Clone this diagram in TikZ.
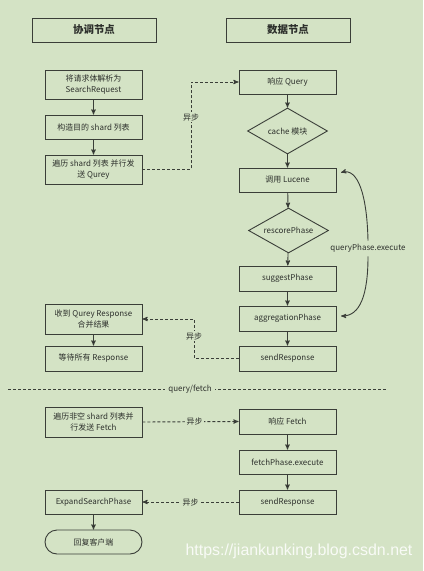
\documentclass[tikz,border=0pt]{standalone}
\usepackage{fontspec}
\setmainfont{Noto Sans CJK SC}
\newfontfamily\urlfont{Liberation Sans}
\usetikzlibrary{arrows,positioning,shapes.geometric}
\definecolor{bg}{RGB}{212,227,197}
\definecolor{ln}{RGB}{58,62,56}
\definecolor{tx}{RGB}{45,48,44}
\tikzset{font=\fontsize{8}{11}\selectfont}
\tikzset{every picture/.style={line width=0.9bp}}
\tikzstyle{head}=[draw=ln,minimum width=124bp,minimum height=24bp,inner sep=1pt,text=tx,font=\fontsize{10.5}{12}\selectfont\bfseries]
\tikzstyle{box}=[draw=ln,minimum width=97bp,minimum height=24bp,inner sep=1pt,align=center,text=tx]
\tikzstyle{decision}=[draw=ln,diamond,aspect=1.75,minimum width=80bp,minimum height=46bp,inner sep=0pt,text=tx]
\tikzstyle{flow}=[draw=ln,->,>=stealth']
\tikzstyle{async}=[draw=ln,->,>=stealth',dash pattern=on 3bp off 2bp]
\tikzstyle{tag}=[fill=bg,inner sep=1.5pt,text=tx]

\begin{document}
\begin{tikzpicture}[x=1bp,y=-1bp]
\fill[bg] (0,0) rectangle (423,571);
\useasboundingbox (0,0) rectangle (423,571);
% headers
\node[head] (coord) at (94,30) {协调节点};
\node[head] (data) at (288,30) {数据节点};
% query phase, coordinating node
\node[box,minimum height=29bp] (parse) at (93.5,84.5) {将请求体解析为\\SearchRequest};
\node[box] (shards) at (93.5,127) {构造目的 shard 列表};
\node[box,minimum height=29bp] (sendq) at (93.5,169.5) {遍历 shard 列表 并行发\\送 Qurey};
\node[box,minimum height=30bp] (merge) at (93.5,319) {收到 Qurey Response\\合并结果};
\node[box,minimum height=25bp] (wait) at (93.5,358.5) {等待所有 Response};
% query phase, data node
\node[box] (respq) at (287.5,82) {响应 Query};
\node[decision] (cache) at (287.5,131) {cache 模块};
\node[box] (lucene) at (287.5,180) {调用 Lucene};
\node[decision,minimum height=45bp] (rescore) at (288.5,230.5) {rescorePhase};
\node[box,minimum height=25bp] (suggest) at (287.5,278.5) {suggestPhase};
\node[box,minimum height=25bp] (aggr) at (287.5,318.5) {aggregationPhase};
\node[box,minimum height=25bp] (sendr) at (287.5,358.5) {sendResponse};
\node[text=tx] (qexec) at (368,248.5) {queryPhase.execute};
% fetch phase
\node[box,minimum height=30bp] (sendf) at (93.5,422) {遍历非空 shard 列表并\\行发送 Fetch};
\node[box,minimum height=25bp] (respf) at (287.5,421.5) {响应 Fetch};
\node[box] (fexec) at (287.5,462) {fetchPhase.execute};
\node[box] (sendr2) at (287.5,502) {sendResponse};
\node[box] (expand) at (93.5,502) {ExpandSearchPhase};
\node[box,rounded corners=12bp] (reply) at (93.5,542) {回复客户端};

\path[flow]
(parse) edge (shards)
(shards) edge (sendq)
(merge) edge (wait)
(respq) edge (cache)
(cache) edge (lucene)
(lucene) edge (rescore)
(rescore) edge (suggest)
(suggest) edge (aggr)
(aggr) edge (sendr)
(respf) edge (fexec)
(fexec) edge (sendr2)
(expand) edge (reply);

\coordinate (lt) at (341,172.5);
\coordinate (lb) at (341,316);
\draw[flow] (qexec.north) .. controls (367,195) and (358,168) .. (lt);
\draw[flow] (qexec.south) .. controls (368,295) and (360,316) .. (lb);

% async messages
\draw[async] (sendq.east) -- ++(49,0) |- (respq.west);
\node[tag] at (191,117) {异步};
\draw[async] (sendr.west) -- ++(-44,0) |- (merge.east);
\node[tag] at (194,336) {异步};
\draw[async] (sendf.east) -- (respf.west) node[tag,midway,xshift=4bp] {异步};
\draw[async] (sendr2.west) -- (expand.east) node[tag,midway] {异步};

% separator
\coordinate (sepl) at (8,389);
\coordinate (sepr) at (387,389);
\draw[ln,line width=0.6bp,dash pattern=on 3bp off 2bp] (sepl) -- (sepr);
\node[tag,inner sep=3pt] (qf) at (190,389) {query/fetch};

\node[text=white,opacity=0.85,font=\urlfont\fontsize{16}{18}\selectfont] (mark) at (299,551) {https://jiankunking.blog.csdn.net};
\end{tikzpicture}
\end{document}
